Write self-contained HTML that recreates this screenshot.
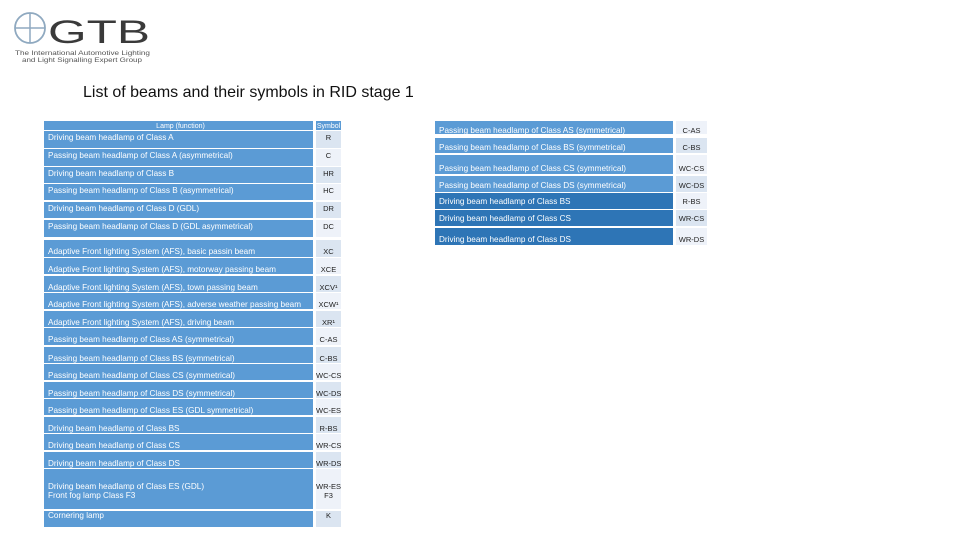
<!DOCTYPE html>
<html><head><meta charset="utf-8"><style>
body{margin:0;width:960px;height:540px;background:#fff;position:relative;overflow:hidden;font-family:"Liberation Sans",sans-serif}
.c{position:absolute;box-sizing:border-box;color:#fff;font-size:8.2px;white-space:nowrap;overflow:hidden;padding-left:4px}
.s{position:absolute;box-sizing:border-box;color:#222;font-size:7.5px;text-align:center;white-space:nowrap}
</style></head><body>
<div style="position:absolute;left:0;top:0;width:160px;height:70px">
<svg width="160" height="70"><circle cx="30" cy="28" r="15" fill="none" stroke="#8fa9c0" stroke-width="1.8"/><line x1="15" y1="28" x2="45" y2="28" stroke="#8fa9c0" stroke-width="1.5"/><line x1="30" y1="13" x2="30" y2="43" stroke="#8fa9c0" stroke-width="1.5"/><text x="48" y="43" font-size="32" fill="#3a3a3a" font-family="Liberation Sans" textLength="102" lengthAdjust="spacingAndGlyphs">GTB</text><text x="15" y="55" font-size="6" fill="#555" textLength="135" lengthAdjust="spacingAndGlyphs">The International Automotive Lighting</text><text x="22" y="62" font-size="6" fill="#555" textLength="120" lengthAdjust="spacingAndGlyphs">and Light Signalling Expert Group</text></svg></div>
<div style="position:absolute;left:83px;top:84px;font-size:16px;color:#111">List of beams and their symbols in RID stage 1</div>
<div id="t"></div>
<script>
const leftLabels=["Driving beam headlamp of Class A","Passing beam headlamp of Class A (asymmetrical)","Driving beam headlamp of Class B","Passing beam headlamp of Class B (asymmetrical)","Driving beam headlamp of Class D (GDL)","Passing beam headlamp of Class D (GDL asymmetrical)","Adaptive Front lighting System (AFS), basic passin beam","Adaptive Front lighting System (AFS), motorway passing beam","Adaptive Front lighting System (AFS), town passing beam","Adaptive Front lighting System (AFS), adverse weather passing beam","Adaptive Front lighting System (AFS), driving beam","Passing beam headlamp of Class AS (symmetrical)","Passing beam headlamp of Class BS (symmetrical)","Passing beam headlamp of Class CS (symmetrical)","Passing beam headlamp of Class DS (symmetrical)","Passing beam headlamp of Class ES (GDL symmetrical)","Driving beam headlamp of Class BS","Driving beam headlamp of Class CS","Driving beam headlamp of Class DS","Driving beam headlamp of Class ES (GDL)\nFront fog lamp Class F3","Cornering lamp"];
const leftSymbols=["R","C","HR","HC","DR","DC","XC","XCE","XCV¹","XCW¹","XR¹","C-AS","C-BS","WC-CS","WC-DS","WC-ES","R-BS","WR-CS","WR-DS","WR-ES\nF3","K"];
const leftRows=[[131,17,2],[149,17,2],[167,16,2],[184,16,2],[202,16,2],[220,17,2],[240,17,7],[258,16,7],[276,16,7],[293,16,7],[311,16,7],[328,17,7],[347,16,7],[364,16,7],[382,16,7],[399,16,7],[417,16,7],[434,16,7],[452,16,7],[469,40,13],[511,16,0]];
const rightLabels=["Passing beam headlamp of Class AS (symmetrical)","Passing beam headlamp of Class BS (symmetrical)","Passing beam headlamp of Class CS (symmetrical)","Passing beam headlamp of Class DS (symmetrical)","Driving beam headlamp of Class BS","Driving beam headlamp of Class CS","Driving beam headlamp of Class DS"];
const rightSymbols=["C-AS","C-BS","WC-CS","WC-DS","R-BS","WR-CS","WR-DS"];
const rightRows=[[121,13,7],[138,15,7],[155,19,11],[176,16,7],[193,16,6],[210,16,6],[228,17,9]];
const t=document.getElementById('t');
function cell(cls,x,y,w,h,bg,txt,pt,nm){const d=document.createElement('div');d.className=cls;


d.style.cssText=`left:${x}px;top:${y}px;width:${w}px;height:${h}px;background:${bg};padding-top:${pt}px;line-height:9px`;
d.innerHTML=txt.replace(/\n/g,'<br>');t.appendChild(d);}
cell('c',44,121,269,9,'#5b9bd5','Lamp (function)',1,'header-lamp');
t.lastChild.style.textAlign='center';t.lastChild.style.fontSize='7px';
cell('s',316,121,25,9,'#5b9bd5','Symbol',1,'header-symbol');
t.lastChild.style.color='#fff';t.lastChild.style.fontSize='7px';
leftLabels.forEach((l,i)=>{const r=leftRows[i];
cell('c',44,r[0],269,r[1],'#5b9bd5',l,r[2],'left-label-'+i);
cell('s',316,r[0],25,r[1],i%2?'#eef2f9':'#dbe5f1',leftSymbols[i],r[2],'left-symbol-'+i);});
rightLabels.forEach((l,i)=>{const r=rightRows[i];const bg=i<4?'#5b9bd5':'#2e75b6';
cell('c',435,r[0],238,r[1],bg,l,r[2]-2,'right-label-'+i);
cell('s',676,r[0],31,r[1],i%2?'#dbe5f1':'#eef2f9',rightSymbols[i],r[2]-2,'right-symbol-'+i);});
</script>
</body></html>
